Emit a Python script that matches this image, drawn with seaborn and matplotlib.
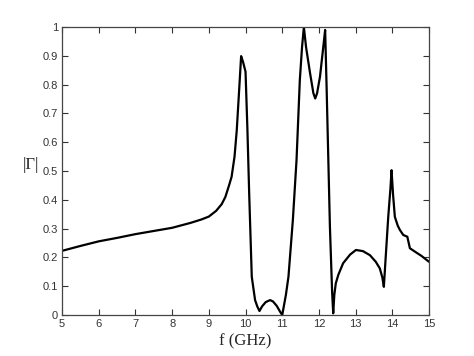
import numpy as np
import pandas as pd
import matplotlib
matplotlib.use("Agg")
import matplotlib.pyplot as plt
import seaborn as sns

# frequency (GHz) and reflection magnitude
freq = [5.0, 5.5, 6.0, 6.5, 7.0, 7.5, 8.0, 8.5, 8.8, 9.0, 9.2, 9.35, 9.45, 9.55,
        9.62, 9.7, 9.76, 9.83, 9.88, 9.93, 10.0, 10.05, 10.1, 10.17, 10.26,
        10.32, 10.38, 10.45, 10.55, 10.67, 10.75, 10.85, 10.95, 11.0, 11.1,
        11.17, 11.29, 11.39, 11.48, 11.54, 11.59, 11.65, 11.76, 11.85, 11.9,
        11.95, 12.03, 12.14, 12.17, 12.21, 12.3, 12.36, 12.39, 12.42, 12.46,
        12.53, 12.66, 12.85, 13.01, 13.2, 13.39, 13.55, 13.66, 13.73, 13.77,
        13.82, 13.89, 13.95, 13.98, 14.02, 14.07, 14.15, 14.21, 14.3, 14.41,
        14.48, 14.62, 14.8, 15.0]
gamma = [0.223, 0.24, 0.256, 0.268, 0.281, 0.292, 0.303, 0.32, 0.332, 0.342,
         0.362, 0.385, 0.41, 0.45, 0.48, 0.55, 0.64, 0.79, 0.899, 0.88, 0.845,
         0.65, 0.42, 0.133, 0.052, 0.03, 0.014, 0.03, 0.045, 0.052, 0.047,
         0.032, 0.01, 0.0, 0.07, 0.133, 0.33, 0.538, 0.816, 0.93, 1.0, 0.93,
         0.839, 0.77, 0.752, 0.77, 0.828, 0.955, 0.99, 0.79, 0.307, 0.08,
         0.006, 0.07, 0.11, 0.14, 0.18, 0.21, 0.226, 0.222, 0.208, 0.185,
         0.162, 0.13, 0.098, 0.2, 0.341, 0.44, 0.503, 0.42, 0.341, 0.31, 0.295,
         0.278, 0.272, 0.232, 0.22, 0.205, 0.185]
xticks = [5, 6, 7, 8, 9, 10, 11, 12, 13, 14, 15]
yticks = [0, 0.1, 0.2, 0.3, 0.4, 0.5, 0.6, 0.7, 0.8, 0.9, 1]

df = pd.DataFrame({"f": freq, "g": gamma})

sns.set_style("ticks")
plt.rcParams["font.family"] = ["Liberation Sans", "DejaVu Sans"]

fig = plt.figure(figsize=(4.74, 3.56), dpi=100)
ax = fig.add_axes([0.131, 0.115, 0.774, 0.809])
sns.lineplot(data=df, x="f", y="g", estimator=None, sort=False,
             color="black", linewidth=1.6, ax=ax)

ax.set_xlim(5, 15)
ax.set_ylim(0, 1)
ax.set_xticks(xticks)
ax.set_yticks(yticks)
ax.set_xticklabels([str(t) for t in xticks])
ax.set_yticklabels([("%g" % t) for t in yticks])
ax.tick_params(direction="in", top=True, right=True, length=4, width=0.8,
               labelsize=8, colors="#333333", pad=3)
for s in ax.spines.values():
    s.set_visible(True)
    s.set_color("#444444")
    s.set_linewidth(0.9)

ax.set_xlabel("f (GHz)", family=["Liberation Serif", "DejaVu Serif"],
              fontsize=12, labelpad=3)
ax.set_ylabel("|Γ|", family=["Liberation Serif", "DejaVu Serif"],
              fontsize=12, rotation=0, ha="center", va="center")
ax.yaxis.set_label_coords(-0.084, 0.52)

fig.savefig("out.png", dpi=100)
